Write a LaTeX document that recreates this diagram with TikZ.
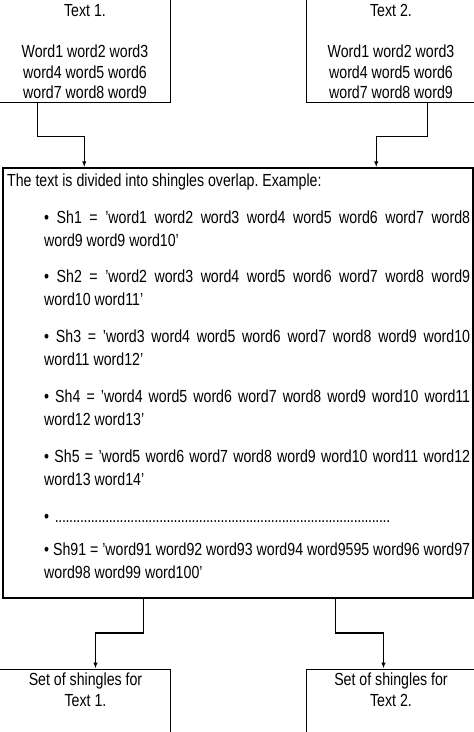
\documentclass[tikz,border=0pt]{standalone}
\usepackage{fontspec}
\setmainfont[FakeStretch=0.81]{Liberation Sans}
\usetikzlibrary{arrows.meta, calc}
\frenchspacing

\begin{document}
\begin{tikzpicture}[x=1pt, y=-1pt]%
            \tikzstyle{box}=[draw, line width=1pt, inner sep=0pt];%
            \tikzstyle{txt}=[inner sep=0pt, align=center, font=\fontsize{17.5}{20.5}\selectfont];%
            \tikzstyle{item}=[anchor=base west, inner sep=0pt, text width=426pt, align=justify, font=\fontsize{17.5}{23}\selectfont];%
            \tikzstyle{arr}=[-{Latex[length=6pt, width=4.5pt]}, line width=1.5pt];%
            \useasboundingbox (0, 0) rectangle (474, 732);

            \node[box, minimum width=172pt, minimum height=110pt] (text1) at (84, 47) {};
            \node[txt, anchor=north] (t1) at (85, 4.5) {Text 1.\\[20.5pt]Word1 word2 word3\\word4 word5 word6\\word7 word8 word9};
            \node[box, minimum width=170pt, minimum height=110pt] (text2) at (391, 47) {};
            \node[txt, anchor=north] (t2) at (391, 4.5) {Text 2.\\[20.5pt]Word1 word2 word3\\word4 word5 word6\\word7 word8 word9};

            \node[box, line width=1.5pt, minimum width=470pt, minimum height=430pt] (main) at (238, 383) {};
            \node[txt, anchor=base west] (head) at (7, 186) {The text is divided into shingles overlap. Example:};
            \node[item] (sh1) at (44, 223) {• Sh1 = 'word1 word2 word3 word4 word5 word6 word7 word8\linebreak word9 word9 word10'};
            \node[item] (sh2) at (44, 282) {• Sh2 = 'word2 word3 word4 word5 word6 word7 word8 word9\linebreak word10 word11'};
            \node[item] (sh3) at (44, 342) {• Sh3 = 'word3 word4 word5 word6 word7 word8 word9 word10\linebreak word11 word12'};
            \node[item] (sh4) at (44, 402) {• Sh4 = 'word4 word5 word6 word7 word8 word9 word10 word11\linebreak word12 word13'};
            \node[item] (sh5) at (44, 462) {• Sh5 = 'word5 word6 word7 word8 word9 word10 word11 word12\linebreak word13 word14'};
            \node[item] (dots) at (44, 522) {•\ \leaders\hbox to 3.6pt{\hss.\hss}\hskip 338pt\mbox{}};
            \node[item] (sh91) at (44, 555) {• Sh91 = 'word91 word92 word93 word94 word9595 word96 word97\linebreak word98 word99 word100'};

            \node[box, minimum width=172pt, minimum height=70pt] (set1) at (84, 704) {};
            \node[txt, anchor=north] (s1) at (85.5, 673) {Set of shingles for\\Text 1.};
            \node[box, minimum width=170pt, minimum height=70pt] (set2) at (391, 704) {};
            \node[txt, anchor=north] (s2) at (391, 673) {Set of shingles for\\Text 2.};

            \draw[arr] ($(text1.south west)+(40,0)$) -- ++(0,34) -| ($(main.north west)+(82,0)$);
            \draw[arr] ($(text2.south west)+(122,0)$) -- ++(0,34) -| ($(main.north west)+(374,0)$);
            \draw[arr] ($(main.south west)+(141,0)$) -- ++(0,34) -| ($(set1.north west)+(98,0)$);
            \draw[arr] ($(main.south west)+(333,0)$) -- ++(0,34) -| ($(set2.north west)+(78,0)$);
        \end{tikzpicture}
\end{document}
